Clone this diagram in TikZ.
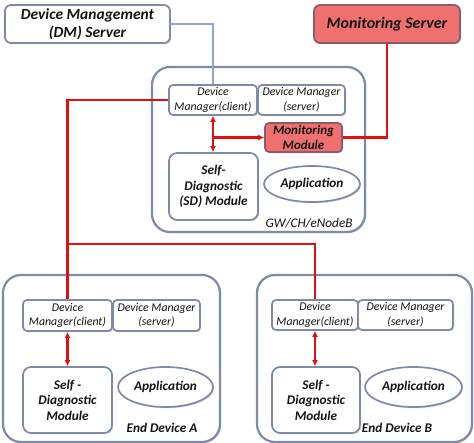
\documentclass[tikz,border=0pt]{standalone}
\usepackage{fontspec}
\setmainfont{Carlito}
\usetikzlibrary{arrows.meta,shapes.geometric,shadows}
\definecolor{boxline}{HTML}{7F8BA6}
\definecolor{redl}{HTML}{E01010}
\definecolor{bluel}{HTML}{8FA8C8}
\definecolor{monfill}{HTML}{F07070}
\definecolor{monline}{HTML}{8A5A70}
\definecolor{txt}{HTML}{141414}
\tikzset{
  x=1pt,y=1pt,
  shad/.style={drop shadow={shadow xshift=1.2pt,shadow yshift=-1.2pt,opacity=0.18,fill=black}},
  container/.style={draw=boxline,line width=2.2pt,rounded corners=18pt,fill=white,shad},
  box/.style={draw=boxline,line width=1.7pt,rounded corners=4pt,fill=white,inner sep=0pt,align=center,text=txt,shad},
  monbox/.style={box,draw=monline,fill=monfill},
  app/.style={ellipse,draw=boxline,line width=1.7pt,fill=white,inner sep=0pt,text=txt,shad},
  bigtxt/.style={font=\fontsize{15.5}{18}\selectfont\bfseries\itshape},
  montxt/.style={font=\fontsize{16}{18}\selectfont\bfseries\itshape},
  dmtxt/.style={font=\fontsize{11.8}{14.5}\selectfont\itshape},
  midtxt/.style={font=\fontsize{13.3}{15.5}\selectfont\bfseries\itshape},
  redline/.style={draw=redl,line width=2.4pt},
  blueline/.style={draw=bluel,line width=1.2pt},
  tip/.style={-{Latex[length=6pt,width=6pt]}},
  tips/.style={{Latex[length=6pt,width=6pt]}-{Latex[length=6pt,width=6pt]}},
}
\begin{document}
\begin{tikzpicture}
\useasboundingbox[fill=white] (0,0) rectangle (474,-443);
% top servers
\node[box,bigtxt,minimum width=165,minimum height=38,rounded corners=6pt] (dms) at (87.5,-24) {Device Management\\(DM) Server};
\node[monbox,montxt,minimum width=146,minimum height=38,rounded corners=6pt] (ms) at (387,-24) {Monitoring Server};
% GW container
\node[container,minimum width=213,minimum height=165] (gw) at (258.5,-149.5) {};
\node[box,dmtxt,minimum width=88,minimum height=30] (gdc) at (213,-100) {Device\\Manager(client)};
\node[box,dmtxt,minimum width=87,minimum height=30] (gds) at (301.5,-100) {Device Manager\\(server)};
\node[monbox,font=\fontsize{13}{15}\selectfont\bfseries\itshape,minimum width=77,minimum height=29] (gmm) at (303.5,-137.5) {Monitoring\\Module};
\node[box,midtxt,minimum width=89,minimum height=67,rounded corners=8pt] (gsd) at (213.5,-186.5) {Self-\\Diagnostic\\(SD) Module};
\node[app,midtxt,minimum width=96,minimum height=36] (gapp) at (312,-184) {Application};
\node[font=\fontsize{13.2}{15}\selectfont\itshape,text=txt,inner sep=0pt] (gwl) at (309,-223) {GW/CH/eNodeB};
% Device A
\node[container,minimum width=217,minimum height=167] (ea) at (111.5,-358.5) {};
\node[box,dmtxt,minimum width=89,minimum height=31] (adc) at (67.5,-315.5) {Device\\Manager(client)};
\node[box,dmtxt,minimum width=87,minimum height=31] (ads) at (156.5,-315.5) {Device Manager\\(server)};
\node[box,midtxt,minimum width=89,minimum height=66,rounded corners=8pt] (asd) at (67.5,-400) {Self -\\Diagnostic\\Module};
\node[app,midtxt,minimum width=95,minimum height=40] (aapp) at (165.5,-387) {Application};
\node[midtxt,text=txt,inner sep=0pt] (eal) at (162,-428) {End Device A};
% Device B
\node[container,minimum width=215,minimum height=167] (eb) at (364.5,-358.5) {};
\node[box,dmtxt,minimum width=86,minimum height=30] (bdc) at (315,-315) {Device\\Manager(client)};
\node[box,dmtxt,minimum width=95,minimum height=30] (bds) at (405.5,-315) {Device Manager\\(server)};
\node[box,midtxt,minimum width=88,minimum height=66,rounded corners=8pt] (bsd) at (316,-400) {Self -\\Diagnostic\\Module};
\node[app,midtxt,minimum width=97,minimum height=40] (bapp) at (413.5,-387) {Application};
\node[midtxt,text=txt,inner sep=0pt] (ebl) at (397,-428) {End Device B};
% connectors
\draw[blueline] (dms.east) -| (gdc.north);
\draw[redline] (ms.south) |- (gmm.east);
\draw[redline] (gdc.west) -| (adc.north);
\coordinate (j) at (adc.north |- 0,-244);
\draw[redline] (j) -| (bdc.north);
\draw[redline,tips] (gdc.south) -- (gdc.south |- gsd.north);
\draw[redline,tip] (gdc.south |- gmm.west) -- (gmm.west);
\draw[redline,tips] (adc.south) -- (adc.south |- asd.north);
\draw[redline,tips] (bdc.south) -- (bdc.south |- bsd.north);
\end{tikzpicture}
\end{document}
